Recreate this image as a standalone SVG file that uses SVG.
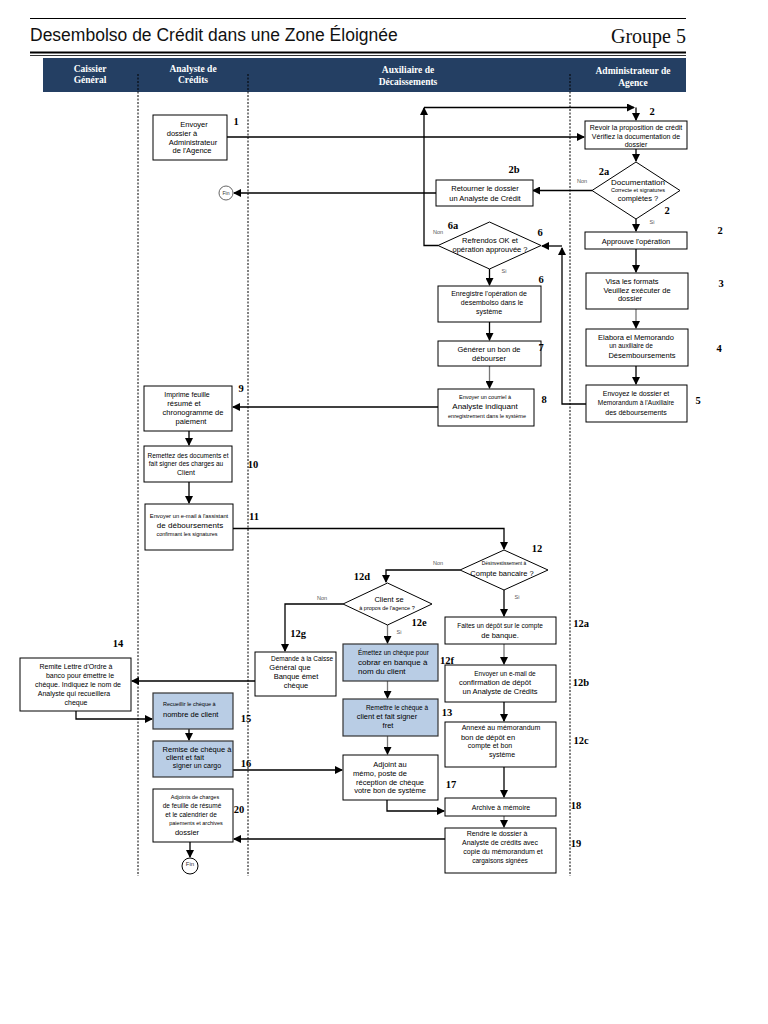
<svg xmlns="http://www.w3.org/2000/svg" width="768" height="1024" viewBox="0 0 768 1024">
<defs>
<marker id="a" markerUnits="userSpaceOnUse" markerWidth="8" markerHeight="8" refX="7" refY="4" orient="auto">
<path d="M0,0 L8,4 L0,8 z" fill="#000"/>
</marker>
<marker id="ag" markerUnits="userSpaceOnUse" markerWidth="8" markerHeight="8" refX="7" refY="4" orient="auto">
<path d="M0,0 L8,4 L0,8 z" fill="#000"/>
</marker>
<style>
.box{fill:#fff;stroke:#000;stroke-width:1}
.blue{fill:#B9CDE5;stroke:#333;stroke-width:1.2}
.dia{fill:#fff;stroke:#000;stroke-width:1}
.t{font-family:"Liberation Sans",Arial,sans-serif;font-size:7.5px;fill:#000;text-anchor:middle}
.s{font-size:5.5px}
.m{font-size:6.5px}
.st{text-anchor:start}
.n{font-family:"Liberation Serif","Times New Roman",serif;font-weight:bold;font-size:10.5px;fill:#000;text-anchor:middle}
.y{font-family:"Liberation Sans",Arial,sans-serif;font-size:5.5px;fill:#555;text-anchor:middle}
.h{font-family:"Liberation Serif","Times New Roman",serif;font-weight:bold;font-size:9.5px;fill:#fff;text-anchor:middle}
.c{stroke:#000;stroke-width:1.3;fill:none;marker-end:url(#a)}
.g{stroke:#777;stroke-width:1.3;fill:none;marker-end:url(#ag)}
.p{stroke:#000;stroke-width:1.3;fill:none}
.lane{stroke:#000;stroke-width:1;stroke-dasharray:2,1.5}
</style>
</defs>
<rect width="768" height="1024" fill="#fff"/>

<g id="header">
<line x1="30" y1="18.5" x2="686" y2="18.5" stroke="#000" stroke-width="1.2"/>
<text x="30" y="41" font-family="Liberation Sans, Arial, sans-serif" font-size="17.5" fill="#111">Desembolso de Crédit dans une Zone Éloignée</text>
<text x="686" y="43" font-family="Liberation Serif, Times New Roman, serif" font-size="20" fill="#111" text-anchor="end">Groupe 5</text>
<line x1="30" y1="52.5" x2="686" y2="52.5" stroke="#000" stroke-width="2"/>
<line x1="30" y1="55.5" x2="686" y2="55.5" stroke="#000" stroke-width="0.8"/>
<rect x="43" y="58" width="643" height="34" fill="#243F63"/>
<text class="h" x="90" y="72">Caissier</text>
<text class="h" x="90" y="83">Général</text>
<text class="h" x="193" y="72">Analyste de</text>
<text class="h" x="193" y="83">Crédits</text>
<text class="h" x="408" y="73">Auxiliaire de</text>
<text class="h" x="408" y="85">Décaissements</text>
<text class="h" x="633" y="74">Administrateur de</text>
<text class="h" x="633" y="86">Agence</text>
</g>

<g id="lanes">
<line class="lane" x1="138" y1="74" x2="138" y2="876"/>
<line class="lane" x1="248" y1="74" x2="248" y2="876"/>
<line class="lane" x1="570" y1="74" x2="570" y2="876"/>
</g>

<g id="connectors">
<path class="c" d="M227,137 H584"/>
<path class="c" d="M438,245.5 H424 V108"/>
<path class="c" d="M424,107.5 H634"/>
<path class="c" d="M636,107.5 V120"/>
<path class="c" d="M636,149 V161"/>
<path class="c" d="M592,190.5 H533"/>
<path class="c" d="M436,193 H234"/>
<path class="c" d="M636,219 V231"/>
<path class="c" d="M636,249 V272"/>
<path class="g" d="M636,309 V328"/>
<path class="c" d="M636,366 V384"/>
<path class="c" d="M586,404 H562 V248"/>
<path class="c" d="M562,246 H542"/>
<path class="c" d="M489.5,269 V285"/>
<path class="c" d="M489.5,322 V340"/>
<path class="g" d="M489.5,366 V388"/>
<path class="c" d="M438,407 H233"/>
<path class="c" d="M189,431 V445"/>
<path class="c" d="M189,482 V503"/>
<path class="c" d="M233,528.5 H504 V549"/>
<path class="c" d="M460,570 H386 V582"/>
<path class="c" d="M343,604 H285 V651"/>
<path class="c" d="M504,590 V616"/>
<path class="g" d="M504,644 V664"/>
<path class="c" d="M504,702 V721"/>
<path class="c" d="M504,767 V797"/>
<path class="g" d="M504,816 V827"/>
<path class="c" d="M445,839 H234"/>
<path class="c" d="M190,842 V857"/>
<path class="g" d="M387.5,625 V643"/>
<path class="g" d="M387.5,681 V698"/>
<path class="g" d="M387.5,736 V754"/>
<path class="c" d="M255,681 H132"/>
<path class="c" d="M76,711 V719 H152"/>
<path class="c" d="M189,729 V740"/>
<path class="c" d="M233,770 H342"/>
<path class="c" d="M387,800 V811 H444"/>
</g>

<g id="n1"><rect class="box" x="153" y="115" width="74" height="45"/>
<text class="t" x="194" y="127">Envoyer</text><text class="t" x="182" y="136">dossier à</text><text class="t" x="193" y="145">Administrateur</text><text class="t" x="192" y="153">de l'Agence</text>
<text class="n" x="236" y="125">1</text></g>

<g id="n2"><rect class="box" x="585" y="121" width="102" height="28"/>
<text class="t" style="font-size:7px" x="636" y="130">Revoir la proposition de crédit</text><text class="t" style="font-size:7px" x="636" y="138.5">Vérifiez la documentation de</text><text class="t" style="font-size:7px" x="636" y="147">dossier</text>
<text class="n" x="652" y="115">2</text></g>

<g id="n2a"><polygon class="dia" points="636,162 680,190.5 636,219 592,190.5"/>
<text class="t" style="font-size:8px" x="638" y="185">Documentation</text><text class="t s" x="638" y="192">Correcte et signatures</text><text class="t" x="638" y="201">complètes ?</text>
<text class="n" x="604" y="175">2a</text><text class="n" x="667" y="214">2</text>
<text class="y" x="582" y="183">Non</text><text class="y" x="652" y="224">Si</text></g>

<g id="n2b"><rect class="box" x="436" y="180" width="97" height="26"/>
<text class="t" x="485" y="191">Retourner le dossier</text><text class="t" x="485" y="200.5">un Analyste de Crédit</text>
<text class="n" x="514" y="173">2b</text></g>

<g id="fin1"><circle cx="226" cy="193" r="7" fill="#fff" stroke="#666" stroke-width="1"/>
<text class="y" x="226" y="195" style="font-size:5px;fill:#333">Fin</text></g>

<g id="n2c"><rect class="box" x="585" y="232" width="102" height="17"/>
<text class="t" x="636" y="243.5">Approuve l'opération</text>
<text class="n" x="720" y="234">2</text></g>

<g id="n6a"><polygon class="dia" points="489.5,222 541,245.5 489.5,269 438,245.5"/>
<text class="t" x="490" y="243">Refrendos OK et</text><text class="t" x="490" y="252">opération approuvée ?</text>
<text class="n" x="453" y="229">6a</text><text class="n" x="540" y="236">6</text>
<text class="y" x="438" y="234">Non</text><text class="y" x="504" y="273">Si</text></g>

<g id="n6"><rect class="box" x="438" y="286" width="103" height="36"/>
<text class="t" style="font-size:7px" x="489" y="296">Enregistre l'opération de</text><text class="t" style="font-size:7px" x="492" y="305">desembolso dans le</text><text class="t" style="font-size:7px" x="489" y="314">système</text>
<text class="n" x="541" y="283">6</text></g>

<g id="n7"><rect class="box" x="438" y="341" width="103" height="25"/>
<text class="t" x="489" y="352">Générer un bon de</text><text class="t" x="489" y="361">débourser</text>
<text class="n" x="541" y="351">7</text></g>

<g id="n8"><rect class="box" x="438" y="389" width="96" height="37"/>
<text class="t s" x="485" y="399">Envoyer un courriel à</text><text class="t" style="font-size:8px" x="485" y="409">Analyste indiquant</text><text class="t s" x="487" y="418">enregistrement dans le système</text>
<text class="n" x="544" y="403">8</text></g>

<g id="n3"><rect class="box" x="586" y="273" width="102" height="36"/>
<text class="t" x="632" y="284">Visa les formats</text><text class="t" x="637" y="293">Veuillez exécuter de</text><text class="t" x="630" y="301">dossier</text>
<text class="n" x="721" y="287">3</text></g>

<g id="n4"><rect class="box" x="586" y="329" width="102" height="37"/>
<text class="t" x="636" y="340">Elabora el Memorando</text><text class="t m" x="631" y="348">un auxiliaire de</text><text class="t" x="642" y="358">Désemboursements</text>
<text class="n" x="719" y="352">4</text></g>

<g id="n5"><rect class="box" x="586" y="385" width="101" height="37"/>
<text class="t" style="font-size:7px" x="636" y="396">Envoyez le dossier et</text><text class="t m" x="636" y="405">Memorandum à l'Auxiliaire</text><text class="t" style="font-size:7px" x="636" y="415">des déboursements</text>
<text class="n" x="698" y="404">5</text></g>

<g id="n9"><rect class="box" x="144" y="386" width="88" height="45"/>
<text class="t" style="font-size:7px" x="187" y="397">Imprime feuille</text><text class="t" x="184" y="405.5">résumé et</text><text class="t" x="193" y="415">chronogramme de</text><text class="t" x="191" y="424">paiement</text>
<text class="n" x="241" y="392">9</text></g>

<g id="n10"><rect class="box" x="144" y="446" width="88" height="36"/>
<text class="t m" x="188" y="458">Remettez des documents et</text><text class="t m" x="186" y="466">fait signer des charges au</text><text class="t" style="font-size:7px" x="186" y="475">Client</text>
<text class="n" x="253" y="468">10</text></g>

<g id="n11"><rect class="box" x="145" y="504" width="88" height="46"/>
<text class="t" style="font-size:5.8px" x="189" y="518">Envoyer un e-mail à l'assistant</text><text class="t" style="font-size:8px" x="190" y="528">de déboursements</text><text class="t s" x="187" y="536">confirmant les signatures</text>
<text class="n" x="254" y="520">11</text></g>

<g id="n12"><polygon class="dia" points="504,550 548,570 504,590 460,570"/>
<text class="t" style="font-size:4.8px" x="504" y="565">Désinvestissement à</text><text class="t" x="502" y="576">Compte bancaire ?</text>
<text class="n" x="537" y="552">12</text>
<text class="y" x="438" y="565">Non</text><text class="y" x="517" y="599">Si</text></g>

<g id="n12d"><polygon class="dia" points="387.5,583 432,604 387.5,625 343,604"/>
<text class="t" x="389" y="602">Client se</text><text class="t s" x="387" y="609.5">à propos de l'agence ?</text>
<text class="n" x="362" y="580">12d</text><text class="n" x="419" y="626">12e</text>
<text class="y" x="322" y="600">Non</text><text class="y" x="399" y="634">Si</text></g>

<g id="n12a"><rect class="box" x="445" y="617" width="111" height="27"/>
<text class="t m" x="500" y="628">Faites un dépôt sur le compte</text><text class="t" x="500" y="637.5">de banque.</text>
<text class="n" x="581" y="627">12a</text></g>

<g id="n12b"><rect class="box" x="445" y="665" width="111" height="37"/>
<text class="t m" x="505" y="676">Envoyer un e-mail de</text><text class="t" x="495" y="685">confirmation de dépôt</text><text class="t" x="500" y="694">un Analyste de Crédits</text>
<text class="n" x="581" y="686">12b</text></g>

<g id="n12c"><rect class="box" x="445" y="722" width="111" height="45"/>
<text class="t" style="font-size:7px" x="501" y="730">Annexé au mémorandum</text><text class="t" x="488" y="739.5">bon de dépôt en</text><text class="t" style="font-size:7px" x="490" y="748">compte et bon</text><text class="t" style="font-size:7px" x="502" y="757">système</text>
<text class="n" x="581" y="744">12c</text></g>

<g id="n18"><rect class="box" x="445" y="798" width="111" height="18"/>
<text class="t" style="font-size:7px" x="501" y="809.5">Archive  à  mémoire</text>
<text class="n" x="576" y="809">18</text></g>

<g id="n19"><rect class="box" x="445" y="828" width="111" height="45"/>
<text class="t" style="font-size:7px" x="497" y="836">Rendre  le  dossier  à</text><text class="t" style="font-size:7px" x="500" y="845">Analyste de crédits avec</text><text class="t" style="font-size:7px" x="503" y="854">copie du mémorandum et</text><text class="t m" x="500" y="863">cargaisons signées</text>
<text class="n" x="576" y="847">19</text></g>

<g id="n12g"><rect class="box" x="255" y="652" width="81" height="44"/>
<text class="t m st" x="271" y="661">Demande à la Caisse</text><text class="t" x="290" y="670">Général que</text><text class="t" x="296" y="679">Banque émet</text><text class="t" x="296" y="688">chèque</text>
<text class="n" x="298" y="637">12g</text></g>

<g id="n14"><rect class="box" x="20" y="658" width="111" height="53"/>
<text class="t" style="font-size:7px" x="76" y="669">Remite Lettre d'Ordre à</text><text class="t" style="font-size:7px" x="80" y="678">banco pour émettre le</text><text class="t" style="font-size:7px" x="78" y="687">chèque. Indiquez le nom de</text><text class="t" style="font-size:7px" x="74" y="696">Analyste qui recueillera</text><text class="t" style="font-size:7px" x="76" y="704.5">cheque</text>
<text class="n" x="118" y="647">14</text></g>

<g id="n12f"><rect class="blue" x="343" y="644" width="95" height="37"/>
<text class="t m st" x="358" y="655">Émettez un chèque pour</text><text class="t st" style="font-size:8px" x="358" y="665">cobrar en banque à</text><text class="t st" style="font-size:8px" x="358" y="674">nom du client</text>
<text class="n" x="447" y="664">12f</text></g>

<g id="n13"><rect class="blue" x="343" y="699" width="95" height="37"/>
<text class="t m" x="397" y="710">Remettre le chèque à</text><text class="t" x="387" y="719">client et fait signer</text><text class="t" x="388" y="728">fret</text>
<text class="n" x="447" y="716">13</text></g>

<g id="n17"><rect class="box" x="343" y="755" width="95" height="45"/>
<text class="t" x="390" y="767">Adjoint au</text><text class="t" x="380" y="776">mémo, poste de</text><text class="t" x="390" y="784.5">réception de chèque</text><text class="t" x="390" y="793">votre bon de système</text>
<text class="n" x="451" y="788">17</text></g>

<g id="n15"><rect class="blue" x="153" y="693" width="80" height="36"/>
<text class="t s st" x="163" y="706">Recueillir le chèque à</text><text class="t st" x="163" y="717">nombre de client</text>
<text class="n" x="246" y="722">15</text></g>

<g id="n16"><rect class="blue" x="153" y="741" width="80" height="36"/>
<text class="t" x="197" y="752">Remise de chèque à</text><text class="t" x="185" y="759.5">client et fait</text><text class="t" style="font-size:7px" x="197" y="768">signer un cargo</text>
<text class="n" x="246" y="767">16</text></g>

<g id="n20"><rect class="box" x="153" y="789" width="80" height="53"/>
<text class="t s" x="195" y="799">Adjoints de charges</text><text class="t m" x="192" y="808">de feuille de résumé</text><text class="t m" x="191" y="816.5">et le calendrier de</text><text class="t s" x="196" y="825">paiements et archives</text><text class="t" x="187" y="834.5">dossier</text>
<text class="n" x="239" y="813">20</text></g>

<g id="fin2"><circle cx="190" cy="866" r="8" fill="#fff" stroke="#000" stroke-width="1"/>
<text class="y" x="190" y="866" style="font-size:6px;fill:#333">Fin</text></g>
</svg>
